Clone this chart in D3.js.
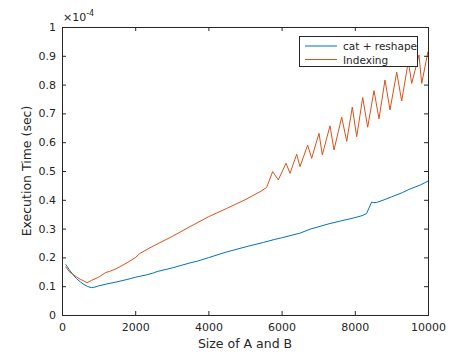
<!DOCTYPE html>
<html><head><meta charset="utf-8">
<script src="https://cdn.jsdelivr.net/npm/d3@7"></script>
<style>html,body{margin:0;padding:0;background:#fff;}svg{display:block;font-family:"DejaVu Sans",sans-serif;}</style>
</head><body><svg id="c" width="474" height="355"></svg>
<script>
// values in units of 1e-4 sec
const blueX = [100,200,300,400,500,600,700,800,900,1000,1200,1500,1800,2000,2300,2500,2600,3000,3500,3700,4000,4500,5000,5500,5800,6000,6500,6776,7000,7300,7600,8000,8200,8320,8400,8460,8520,8600,8800,9000,9300,9500,9800,10000];
const blueY = [0.176,0.157,0.14,0.126,0.115,0.106,0.099,0.095,0.097,0.101,0.107,0.115,0.124,0.131,0.139,0.146,0.151,0.163,0.181,0.187,0.199,0.219,0.236,0.252,0.262,0.268,0.284,0.298,0.306,0.317,0.326,0.338,0.345,0.352,0.375,0.392,0.39,0.391,0.4,0.41,0.425,0.437,0.452,0.465];
const orangeX = [100,200,300,400,500,600,683,800,1000,1200,1300,1500,1800,2000,2131,2500,3000,3500,4000,4500,5000,5410,5592,5756,5911,6120,6230,6412,6503,6712,6822,7022,7112,7322,7432,7642,7779,7932,8052,8216,8352,8525,8661,8825,8962,9145,9281,9462,9555,9754,9828,10000];
const orangeY = [0.168,0.15,0.141,0.132,0.124,0.118,0.112,0.12,0.131,0.148,0.151,0.162,0.183,0.199,0.214,0.24,0.272,0.307,0.341,0.37,0.4,0.428,0.443,0.498,0.469,0.527,0.492,0.558,0.515,0.59,0.544,0.631,0.556,0.657,0.573,0.687,0.603,0.722,0.619,0.755,0.652,0.779,0.681,0.816,0.712,0.843,0.743,0.88,0.804,0.903,0.804,0.915];
const xTicks = [0,2000,4000,6000,8000,10000];
const yTicks = [0,0.1,0.2,0.3,0.4,0.5,0.6,0.7,0.8,0.9,1];
const seriesNames = ["cat + reshape","Indexing"];
const colors = ["#0072BD","#D95319"];

const svg = d3.select("#c");
const L=62,R=428,T=27,B=315;
const x = d3.scaleLinear().domain([0,10000]).range([L,R]);
const y = d3.scaleLinear().domain([0,1]).range([B,T]);
const ax="#262626";

const line = d3.line().x(d=>x(d[0])).y(d=>y(d[1]));
const series = [d3.zip(blueX,blueY), d3.zip(orangeX,orangeY)];
series.forEach((s,i)=>{
  svg.append("path").datum(s).attr("d",line).attr("fill","none").attr("stroke",colors[i]).attr("stroke-width",1);
});

const tk=4;
const gB = svg.append("g").attr("transform",`translate(0,${B})`).call(d3.axisBottom(x).tickValues(xTicks).tickSize(-tk).tickPadding(8).tickFormat(d3.format("d")));
const gT = svg.append("g").attr("transform",`translate(0,${T})`).call(d3.axisTop(x).tickValues(xTicks).tickSize(-tk).tickFormat(""));
const gL = svg.append("g").attr("transform",`translate(${L},0)`).call(d3.axisLeft(y).tickValues(yTicks).tickSize(-tk).tickPadding(6).tickFormat(d=>d===0||d===1?d3.format("d")(d):d3.format(".1f")(d)));
const gR = svg.append("g").attr("transform",`translate(${R},0)`).call(d3.axisRight(y).tickValues(yTicks).tickSize(-tk).tickFormat(""));
[gB,gT,gL,gR].forEach(g=>{
  g.select(".domain").attr("stroke",ax).attr("stroke-width",1);
  g.selectAll(".tick line").attr("stroke",ax);
  g.selectAll("text").attr("fill",ax).style("font-size","11px").style("font-family","DejaVu Sans");
});

const ex = svg.append("text").attr("x",L+1).attr("y",T-6).attr("fill",ax).style("font-size","11px");
ex.append("tspan").text("×10");
ex.append("tspan").attr("dy",-5).style("font-size","8px").text("-4");

svg.append("text").attr("x",(L+R)/2).attr("y",348).attr("text-anchor","middle").attr("fill",ax).style("font-size","12.5px").text("Size of A and B");
svg.append("text").attr("transform",`translate(31,${(T+B)/2}) rotate(-90)`).attr("text-anchor","middle").attr("fill",ax).style("font-size","12.5px").text("Execution Time (sec)");

const lg = svg.append("g");
lg.append("rect").attr("x",299.5).attr("y",36.5).attr("width",118).attr("height",30).attr("fill","#fff").attr("stroke",ax).attr("stroke-width",1);
seriesNames.forEach((n,i)=>{
  const yy = 46+i*13.5;
  lg.append("line").attr("x1",305).attr("x2",337).attr("y1",yy).attr("y2",yy).attr("stroke",colors[i]).attr("stroke-width",1);
  lg.append("text").attr("x",343).attr("y",yy+4).attr("fill",ax).style("font-size","10.5px").text(n);
});
</script></body></html>
